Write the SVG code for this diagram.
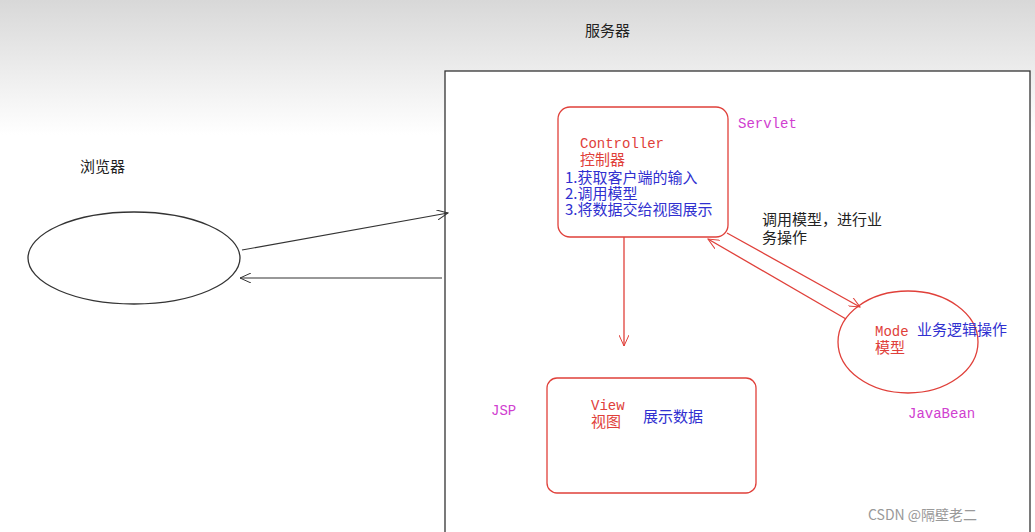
<svg xmlns="http://www.w3.org/2000/svg" width="1035" height="532" viewBox="0 0 1035 532">
<defs>
<linearGradient id="bg" x1="0" y1="0" x2="0" y2="1"><stop offset="0" stop-color="#d8d8d8"/><stop offset="1" stop-color="#ffffff"/></linearGradient>
<marker id="ab" markerWidth="12" markerHeight="10" refX="11" refY="5" orient="auto" markerUnits="userSpaceOnUse"><path d="M0,0 L11,5 L0,10" fill="none" stroke="#333"/></marker>
<marker id="ar" markerWidth="12" markerHeight="10" refX="11" refY="5" orient="auto" markerUnits="userSpaceOnUse"><path d="M0,0 L11,5 L0,10" fill="none" stroke="#e0403a"/></marker>
<style>
.cn{font-family:"Noto Sans CJK SC","Liberation Sans",sans-serif;font-size:15px}
.mono{font-family:"Liberation Mono","Noto Sans CJK SC",monospace;font-size:14px}
.red{fill:#e0403a}.blue{fill:#3030d0}.mag{fill:#d040d0}.blk{fill:#222}
.rs{fill:none;stroke:#e0403a;stroke-width:1.3}
</style>
</defs>
<rect width="1035" height="532" fill="#fff"/>
<rect width="1035" height="135" fill="url(#bg)"/>
<text x="585" y="36" class="cn blk">服务器</text>
<text x="80" y="172" class="cn blk">浏览器</text>
<rect x="445" y="71" width="585" height="470" fill="#fff" stroke="#333" stroke-width="1.3"/>
<g id="browser"><ellipse cx="134" cy="258" rx="106" ry="46" fill="#fff" stroke="#333" stroke-width="1.3"/></g>
<g id="controller">
<rect x="558" y="107" width="170" height="130" rx="12" class="rs" fill="#fff"/>
<text x="738" y="128" class="mono mag">Servlet</text>
<text x="580" y="148" class="mono red">Controller</text>
<text x="580" y="165" class="cn red">控制器</text>
<text x="565" y="183" class="cn blue">1.获取客户端的输入</text>
<text x="565" y="199" class="cn blue">2.调用模型</text>
<text x="565" y="215" class="cn blue">3.将数据交给视图展示</text>
</g>
<g id="view">
<rect x="547" y="378" width="209" height="115" rx="10" class="rs" fill="#fff"/>
<text x="491" y="415" class="mono mag">JSP</text>
<text x="591" y="410" class="mono red">View</text>
<text x="591" y="427" class="cn red">视图</text>
<text x="643" y="422" class="cn blue">展示数据</text>
</g>
<g id="model">
<ellipse cx="908" cy="342" rx="70" ry="51" class="rs" fill="#fff"/>
<text x="875" y="336" class="mono red">Mode</text>
<text x="875" y="353" class="cn red">模型</text>
<text x="917" y="335" class="cn blue">业务逻辑操作</text>
<text x="908" y="418" class="mono mag">JavaBean</text>
</g>
<text x="762" y="225" class="cn blk">调用模型，进行业</text>
<text x="762" y="243" class="cn blk">务操作</text>
<g id="connectors">
<line x1="242" y1="250" x2="448" y2="213" stroke="#333" stroke-width="1.2" marker-end="url(#ab)"/>
<line x1="442" y1="278" x2="240" y2="278" stroke="#333" stroke-width="1.2" marker-end="url(#ab)"/>
<line x1="624" y1="237" x2="624" y2="346" class="rs" marker-end="url(#ar)"/>
<line x1="727" y1="233" x2="860" y2="307" class="rs" marker-end="url(#ar)"/>
<line x1="846" y1="319" x2="708" y2="239" class="rs" marker-end="url(#ar)"/>
</g>
<text x="868" y="520" font-family="'Noto Sans CJK SC',sans-serif" font-size="14" fill="#999">CSDN @隔壁老二</text>
</svg>
